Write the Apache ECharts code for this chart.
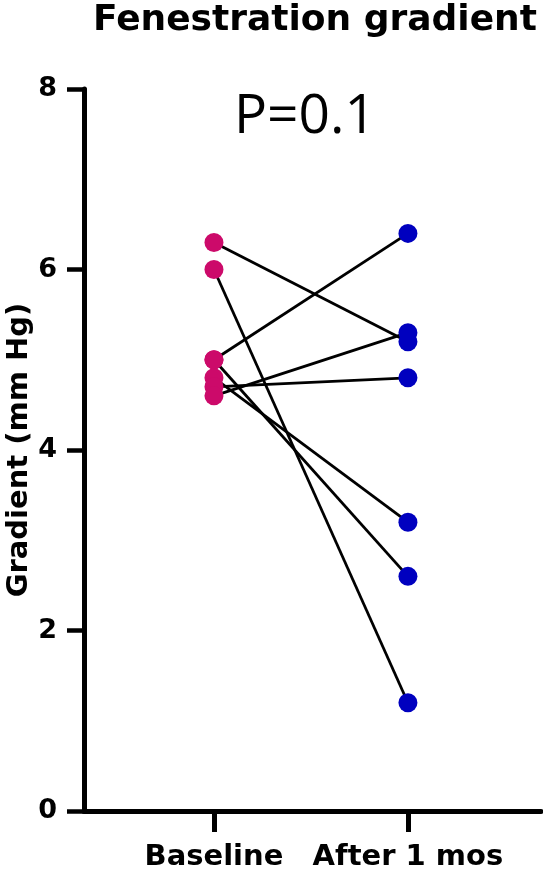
<!DOCTYPE html>
<html><head><meta charset="utf-8">
<script src="https://cdn.jsdelivr.net/npm/echarts@6/dist/echarts.min.js"></script>
<style>html,body{margin:0;padding:0;background:#fff}#c{width:543px;height:870px}</style>
</head><body><div id="c"></div>
<script>
const categories = ['Baseline', 'After 1 mos'];
const baseline = [6.3, 6.0, 5.0, 5.0, 4.8, 4.7, 4.6];
const after = [5.2, 1.2, 6.4, 2.6, 3.2, 4.8, 5.3];
const catPos = [1, 2];
const yTicks = [0, 2, 4, 6, 8];
const titleText = 'Fenestration gradient';
const yName = 'Gradient (mm Hg)';
const pText = 'P=0.1';

const boldFont = 'DejaVu Sans';
const chart = echarts.init(document.getElementById('c'));
const series = [];
baseline.forEach((b, i) => {
  series.push({
    type: 'line', data: [[catPos[0], b], [catPos[1], after[i]]],
    symbol: 'none', lineStyle: {color: '#000', width: 2.8}, z: 2, silent: true, animation: false
  });
});
series.push({
  type: 'scatter', data: baseline.map(v => [catPos[0], v]), symbolSize: 19,
  itemStyle: {color: '#CC0A6A', opacity: 1}, z: 5, animation: false
});
series.push({
  type: 'scatter', data: after.map(v => [catPos[1], v]), symbolSize: 19,
  itemStyle: {color: '#0000BF', opacity: 1}, z: 5, animation: false
});
chart.setOption({
  animation: false,
  title: {text: titleText, left: 88, top: -2,
    textStyle: {fontFamily: boldFont, fontWeight: 'bold', fontSize: 36, color: '#000'}},
  grid: {left: 84, right: 2, top: 89, bottom: 59, containLabel: false, outerBoundsMode: 'none'},
  xAxis: {
    type: 'value', min: 0.33, max: 2.686,
    axisLine: {show: true, lineStyle: {color: '#000', width: 5}},
    axisTick: {show: true, customValues: catPos, length: 21, lineStyle: {color: '#000', width: 5}},
    axisLabel: {show: true, customValues: catPos, margin: 32,
      formatter: v => categories[catPos.indexOf(Math.round(v))] || '',
      fontFamily: boldFont, fontWeight: 'bold', fontSize: 29, color: '#000'},
    splitLine: {show: false}
  },
  yAxis: {
    type: 'value', min: 0, max: 8, interval: 2,
    name: yName, nameLocation: 'middle', nameGap: 50, nameRotate: 90, nameMoveOverlap: false,
    nameTextStyle: {fontFamily: boldFont, fontWeight: 'bold', fontSize: 29, color: '#000'},
    axisLine: {show: true, lineStyle: {color: '#000', width: 5}},
    axisTick: {show: true, length: 17, lineStyle: {color: '#000', width: 4.5}},
    axisLabel: {margin: 27, fontFamily: boldFont, fontWeight: 'bold', fontSize: 27, color: '#000',
      formatter: v => yTicks.indexOf(v) >= 0 ? String(v) : ''},
    splitLine: {show: false}
  },
  graphic: [{
    type: 'text', left: 234, top: 90,
    style: {text: pText, fontFamily: 'Open Sans', fontSize: 55, fill: '#000'}
  }],
  series: series
});
</script></body></html>
